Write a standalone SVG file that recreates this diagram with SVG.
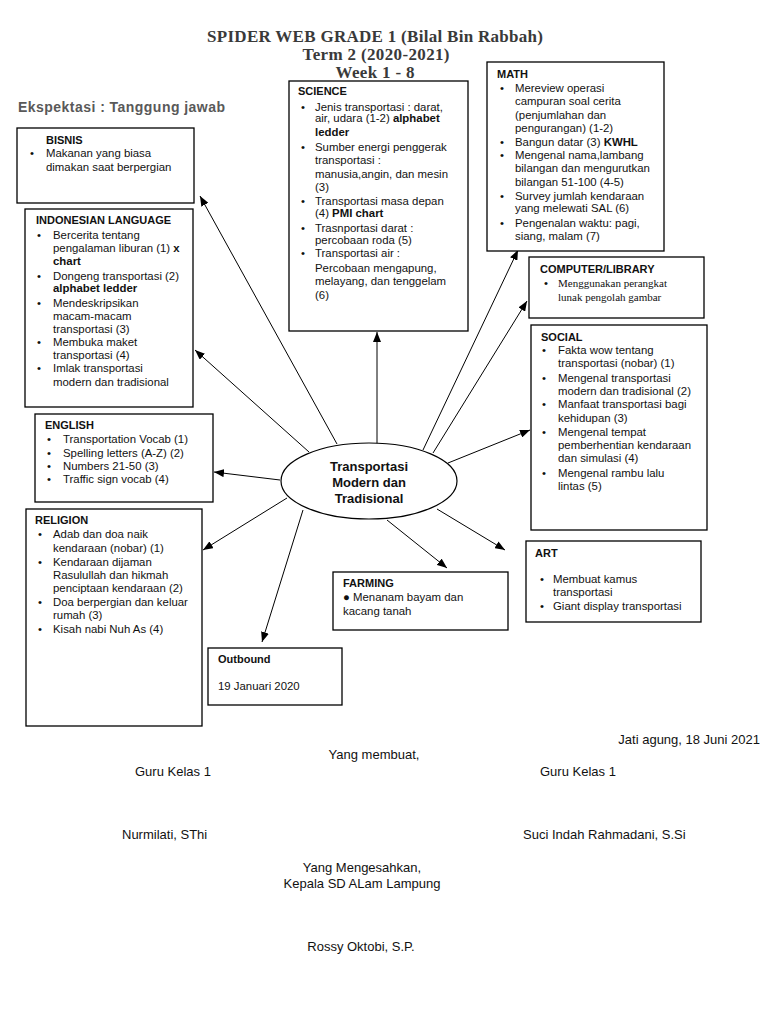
<svg xmlns="http://www.w3.org/2000/svg" width="768" height="1024" viewBox="0 0 768 1024">
<defs>
<marker id="arr" markerWidth="10" markerHeight="8" refX="10" refY="4" orient="auto" markerUnits="userSpaceOnUse">
<path d="M0,0 L10,4 L0,8 z" fill="#000"/>
</marker>
<style>
.box{fill:#fff;stroke:#000;stroke-width:1.3}
.t{font-family:"Liberation Sans",Arial,sans-serif;font-size:11.4px;fill:#111}
.h{font-family:"Liberation Sans",Arial,sans-serif;font-size:11px;font-weight:bold;fill:#111}
.b{font-weight:bold}
.s{font-family:"Liberation Serif","Times New Roman",serif;font-size:11px;fill:#111}
.ttl{font-family:"Liberation Serif","Times New Roman",serif;font-weight:bold;font-size:17px;fill:#3a3a3a}
.f{font-family:"Liberation Sans",Arial,sans-serif;font-size:13px;fill:#111}
.c{stroke:#000;stroke-width:1;fill:none;marker-end:url(#arr)}
</style>
</defs>
<rect width="768" height="1024" fill="#fff"/>

<g id="title">
<text class="ttl" x="375" y="42" text-anchor="middle" textLength="336">SPIDER WEB GRADE 1 (Bilal Bin Rabbah)</text>
<text class="ttl" x="376" y="60" text-anchor="middle" textLength="147">Term 2 (2020-2021)</text>
<text class="ttl" x="375" y="78" text-anchor="middle" textLength="79">Week 1 - 8</text>
<text x="18" y="112" font-family="Liberation Sans,Arial,sans-serif" font-size="14" font-weight="bold" fill="#595959" textLength="207">Ekspektasi : Tanggung jawab</text>
</g>

<g id="connectors">
<line class="c" x1="337" y1="444" x2="200" y2="196"/>
<line class="c" x1="309" y1="452" x2="195" y2="350"/>
<line class="c" x1="377" y1="444" x2="377" y2="332"/>
<line class="c" x1="423" y1="450" x2="518" y2="250"/>
<line class="c" x1="433" y1="453" x2="527" y2="301"/>
<line class="c" x1="448" y1="463" x2="530" y2="430"/>
<line class="c" x1="280" y1="480" x2="214" y2="472"/>
<line class="c" x1="287" y1="498" x2="203" y2="550"/>
<line class="c" x1="303" y1="510" x2="262" y2="642"/>
<line class="c" x1="387" y1="520" x2="447" y2="568"/>
<line class="c" x1="437" y1="509" x2="505" y2="550"/>
</g>

<g id="center">
<ellipse cx="369" cy="481" rx="88" ry="38" fill="#fff" stroke="#000" stroke-width="1.2"/>
<text x="369" y="471" text-anchor="middle" font-family="Liberation Sans,Arial,sans-serif" font-size="13" font-weight="bold" fill="#111">Transportasi</text>
<text x="369" y="487" text-anchor="middle" font-family="Liberation Sans,Arial,sans-serif" font-size="13" font-weight="bold" fill="#111">Modern dan</text>
<text x="369" y="503" text-anchor="middle" font-family="Liberation Sans,Arial,sans-serif" font-size="13" font-weight="bold" fill="#111">Tradisional</text>
</g>

<g id="bisnis">
<rect class="box" x="17" y="128" width="177" height="75"/>
<text class="h" x="46" y="144">BISNIS</text>
<text class="t" x="30" y="157">•</text>
<text class="t" x="46" y="157">Makanan yang biasa</text>
<text class="t" x="46" y="171">dimakan saat berpergian</text>
</g>

<g id="indonesian">
<rect class="box" x="25" y="209" width="168" height="198"/>
<text class="h" x="36" y="224">INDONESIAN LANGUAGE</text>
<text class="t" x="37" y="239">•</text>
<text class="t" x="53" y="239">Bercerita tentang</text>
<text class="t" x="53" y="252">pengalaman liburan (1) <tspan class="b">x</tspan></text>
<text class="t b" x="53" y="265">chart</text>
<text class="t" x="37" y="280">•</text>
<text class="t" x="53" y="280">Dongeng transportasi (2)</text>
<text class="t b" x="53" y="292">alphabet ledder</text>
<text class="t" x="37" y="307">•</text>
<text class="t" x="53" y="307">Mendeskripsikan</text>
<text class="t" x="53" y="320">macam-macam</text>
<text class="t" x="53" y="333">transportasi (3)</text>
<text class="t" x="37" y="346">•</text>
<text class="t" x="53" y="346">Membuka maket</text>
<text class="t" x="53" y="359">transportasi (4)</text>
<text class="t" x="37" y="372">•</text>
<text class="t" x="53" y="372">Imlak transportasi</text>
<text class="t" x="53" y="386">modern dan tradisional</text>
</g>

<g id="science">
<rect class="box" x="289" y="81" width="179" height="250"/>
<text class="h" x="298" y="95">SCIENCE</text>
<text class="t" x="301" y="111">•</text>
<text class="t" x="315" y="111">Jenis transportasi : darat,</text>
<text class="t" x="315" y="122">air, udara (1-2) <tspan class="b">alphabet</tspan></text>
<text class="t b" x="315" y="136">ledder</text>
<text class="t" x="301" y="151">•</text>
<text class="t" x="315" y="151">Sumber energi penggerak</text>
<text class="t" x="315" y="164">transportasi :</text>
<text class="t" x="315" y="178">manusia,angin, dan mesin</text>
<text class="t" x="315" y="191">(3)</text>
<text class="t" x="301" y="205">•</text>
<text class="t" x="315" y="205">Transportasi masa depan</text>
<text class="t" x="315" y="217">(4) <tspan class="b">PMI chart</tspan></text>
<text class="t" x="301" y="232">•</text>
<text class="t" x="315" y="232">Trasnportasi darat :</text>
<text class="t" x="315" y="244">percobaan roda (5)</text>
<text class="t" x="301" y="257">•</text>
<text class="t" x="315" y="257">Transportasi air :</text>
<text class="t" x="315" y="272">Percobaan mengapung,</text>
<text class="t" x="315" y="285">melayang, dan tenggelam</text>
<text class="t" x="315" y="299">(6)</text>
</g>

<g id="math">
<rect class="box" x="487" y="62" width="177" height="189"/>
<text class="h" x="497" y="78">MATH</text>
<text class="t" x="500" y="92">•</text>
<text class="t" x="515" y="92">Mereview operasi</text>
<text class="t" x="515" y="105">campuran soal cerita</text>
<text class="t" x="515" y="119">(penjumlahan dan</text>
<text class="t" x="515" y="132">pengurangan) (1-2)</text>
<text class="t" x="500" y="146">•</text>
<text class="t" x="515" y="146">Bangun datar (3) <tspan class="b">KWHL</tspan></text>
<text class="t" x="500" y="159">•</text>
<text class="t" x="515" y="159">Mengenal nama,lambang</text>
<text class="t" x="515" y="172">bilangan dan mengurutkan</text>
<text class="t" x="515" y="186">bilangan 51-100 (4-5)</text>
<text class="t" x="500" y="200">•</text>
<text class="t" x="515" y="200">Survey jumlah kendaraan</text>
<text class="t" x="515" y="212">yang melewati SAL (6)</text>
<text class="t" x="500" y="227">•</text>
<text class="t" x="515" y="227">Pengenalan waktu: pagi,</text>
<text class="t" x="515" y="240">siang, malam (7)</text>
</g>

<g id="computer">
<rect class="box" x="529" y="257" width="175" height="61"/>
<text class="h" x="540" y="273">COMPUTER/LIBRARY</text>
<text class="t" x="544" y="287">•</text>
<text class="s" x="558" y="287">Menggunakan perangkat</text>
<text class="s" x="558" y="301">lunak pengolah gambar</text>
</g>

<g id="social">
<rect class="box" x="531" y="325" width="176" height="205"/>
<text class="h" x="541" y="341">SOCIAL</text>
<text class="t" x="542" y="354">•</text>
<text class="t" x="558" y="354">Fakta wow tentang</text>
<text class="t" x="558" y="367">transportasi (nobar) (1)</text>
<text class="t" x="542" y="382">•</text>
<text class="t" x="558" y="382">Mengenal transportasi</text>
<text class="t" x="558" y="395">modern dan tradisional (2)</text>
<text class="t" x="542" y="408">•</text>
<text class="t" x="558" y="408">Manfaat transportasi bagi</text>
<text class="t" x="558" y="422">kehidupan (3)</text>
<text class="t" x="542" y="436">•</text>
<text class="t" x="558" y="436">Mengenal tempat</text>
<text class="t" x="558" y="449">pemberhentian kendaraan</text>
<text class="t" x="558" y="462">dan simulasi (4)</text>
<text class="t" x="542" y="477">•</text>
<text class="t" x="558" y="477">Mengenal rambu lalu</text>
<text class="t" x="558" y="490">lintas (5)</text>
</g>

<g id="english">
<rect class="box" x="35" y="414" width="178" height="88"/>
<text class="h" x="45" y="429">ENGLISH</text>
<text class="t" x="47" y="443">•</text>
<text class="t" x="63" y="443">Transportation Vocab (1)</text>
<text class="t" x="47" y="457">•</text>
<text class="t" x="63" y="457">Spelling letters (A-Z) (2)</text>
<text class="t" x="47" y="470">•</text>
<text class="t" x="63" y="470">Numbers 21-50 (3)</text>
<text class="t" x="47" y="483">•</text>
<text class="t" x="63" y="483">Traffic sign vocab (4)</text>
</g>

<g id="religion">
<rect class="box" x="26" y="509" width="176" height="217"/>
<text class="h" x="35" y="524">RELIGION</text>
<text class="t" x="38" y="538">•</text>
<text class="t" x="53" y="538">Adab dan doa naik</text>
<text class="t" x="53" y="552">kendaraan (nobar) (1)</text>
<text class="t" x="38" y="566">•</text>
<text class="t" x="53" y="566">Kendaraan dijaman</text>
<text class="t" x="53" y="579">Rasulullah dan hikmah</text>
<text class="t" x="53" y="592">penciptaan kendaraan (2)</text>
<text class="t" x="38" y="606">•</text>
<text class="t" x="53" y="606">Doa berpergian dan keluar</text>
<text class="t" x="53" y="619">rumah (3)</text>
<text class="t" x="38" y="633">•</text>
<text class="t" x="53" y="633">Kisah nabi Nuh As (4)</text>
</g>

<g id="farming">
<rect class="box" x="333" y="572" width="175" height="58"/>
<text class="h" x="343" y="587">FARMING</text>
<text class="t" x="343" y="601">● Menanam bayam dan</text>
<text class="t" x="343" y="615">kacang tanah</text>
</g>

<g id="outbound">
<rect class="box" x="208" y="648" width="134" height="57"/>
<text class="h" x="218" y="663">Outbound</text>
<text class="t" x="218" y="690">19 Januari 2020</text>
</g>

<g id="art">
<rect class="box" x="526" y="541" width="175" height="81"/>
<text class="h" x="535" y="557">ART</text>
<text class="t" x="540" y="583">•</text>
<text class="t" x="553" y="583">Membuat kamus</text>
<text class="t" x="553" y="596">transportasi</text>
<text class="t" x="540" y="610">•</text>
<text class="t" x="553" y="610">Giant display transportasi</text>
</g>

<g id="footer">
<text class="f" x="760" y="744" text-anchor="end">Jati agung, 18 Juni 2021</text>
<text class="f" x="374" y="759" text-anchor="middle">Yang membuat,</text>
<text class="f" x="135" y="776">Guru Kelas 1</text>
<text class="f" x="540" y="776">Guru Kelas 1</text>
<text class="f" x="122" y="839">Nurmilati, SThi</text>
<text class="f" x="523" y="839">Suci Indah Rahmadani, S.Si</text>
<text class="f" x="362" y="872" text-anchor="middle">Yang Mengesahkan,</text>
<text class="f" x="362" y="888" text-anchor="middle">Kepala SD ALam Lampung</text>
<text class="f" x="361" y="951" text-anchor="middle">Rossy Oktobi, S.P.</text>
</g>
</svg>
